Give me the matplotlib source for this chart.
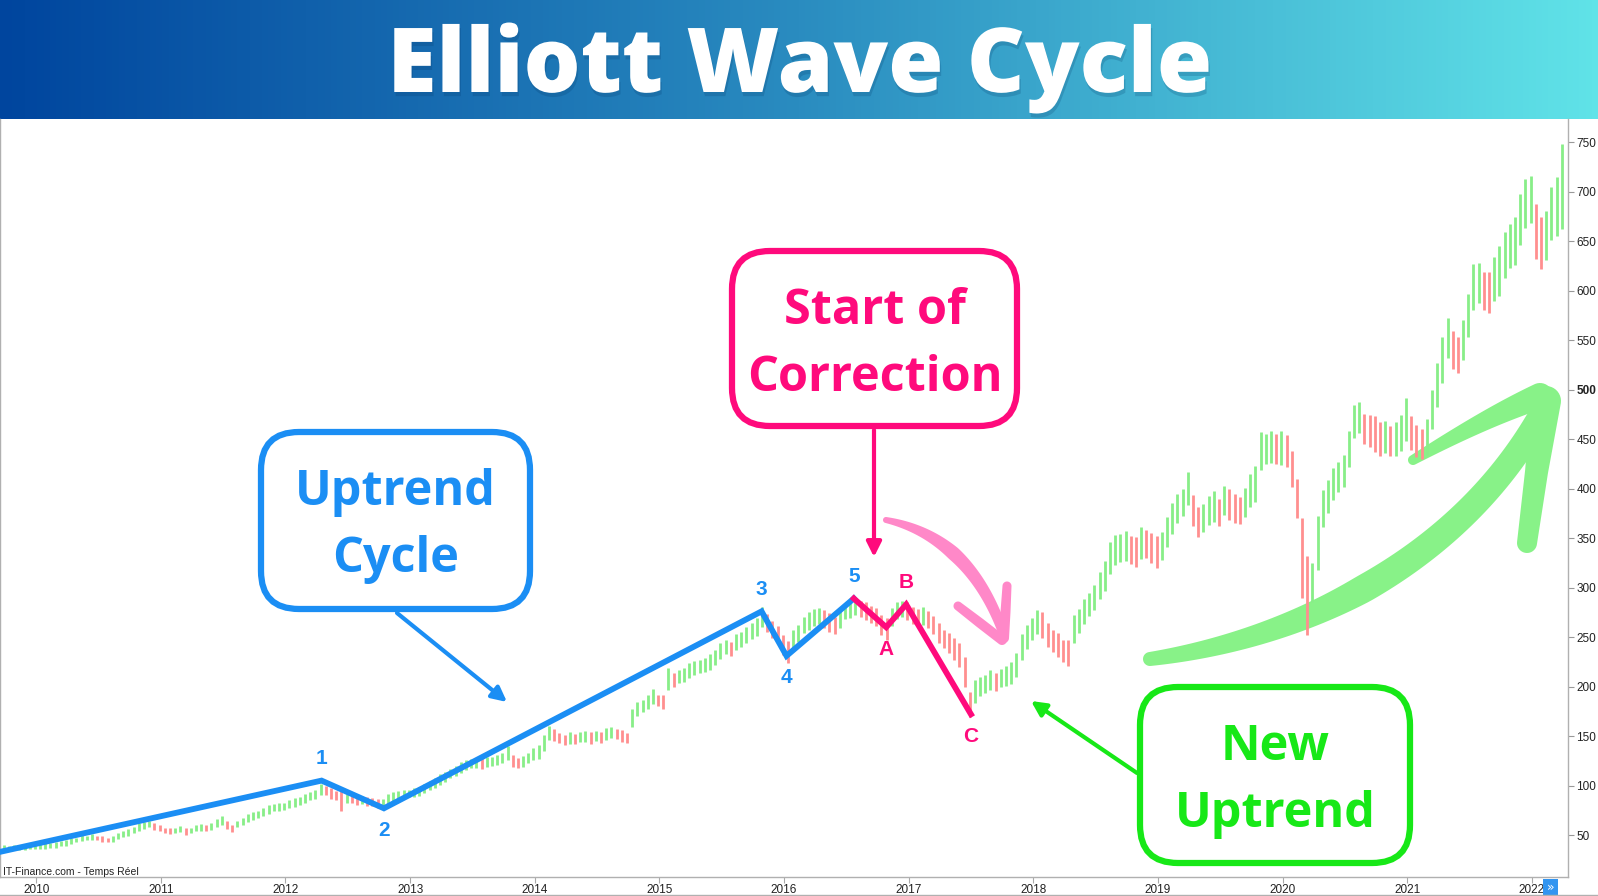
import numpy as np
import matplotlib.pyplot as plt
import matplotlib.patheffects as pe
from matplotlib.patches import FancyBboxPatch, Polygon
from matplotlib.colors import LinearSegmentedColormap

W, H = 1598, 896

# ---------------- données ----------------
# barres demi-mensuelles à partir de 2009.74 : milieu et hauteur (high - low)
bar_start = 2009.74
bar_mid = [
    37, 37, 37, 37, 38, 38, 38, 38, 39, 39, 40, 41, 42, 44, 45, 47, 47, 48, 47, 46, 45, 46, 49, 51,
    53, 55, 58, 60, 61, 59, 57, 55, 54, 55, 56, 54, 55, 57, 58, 57, 59, 62, 65, 60, 57, 61, 64, 67,
    69, 71, 73, 76, 78, 78, 79, 81, 83, 84, 87, 89, 91, 96, 95, 92, 90, 84, 87, 86, 85, 85, 84, 83,
    82, 82, 86, 89, 90, 91, 92, 93, 94, 97, 100, 103, 106, 109, 112, 115, 118, 121, 122, 123, 122, 124, 124, 126,
    128, 133, 125, 123, 124, 128, 132, 134, 143, 153, 151, 148, 146, 148, 147, 149, 150, 148, 150, 149, 152, 154, 152, 150,
    148, 168, 177, 180, 184, 190, 186, 184, 208, 207, 210, 212, 216, 219, 220, 222, 225, 229, 236, 240, 238, 245, 248, 252,
    256, 260, 270, 264, 258, 252, 242, 235, 248, 254, 262, 266, 270, 271, 268, 265, 262, 268, 276, 278, 281, 278, 276, 273,
    270, 262, 258, 270, 277, 278, 276, 272, 270, 271, 268, 262, 254, 248, 244, 238, 232, 215, 182, 195, 200, 203, 207, 205,
    209, 211, 214, 222, 240, 250, 258, 265, 262, 252, 246, 242, 236, 234, 258, 266, 276, 283, 290, 302, 312, 330, 338, 340,
    342, 338, 336, 345, 344, 340, 336, 342, 356, 370, 380, 386, 400, 378, 366, 370, 378, 382, 376, 388, 384, 380, 378, 386,
    398, 405, 438, 440, 442, 440, 441, 438, 420, 390, 330, 292, 305, 345, 380, 392, 405, 412, 418, 440, 468, 472, 460, 458,
    455, 450, 452, 448, 450, 456, 470, 456, 448, 445, 452, 480, 505, 530, 552, 540, 535, 550, 575, 604, 608, 600, 598, 612,
    620, 636, 645, 650, 672, 688, 692, 660, 648, 656, 678, 685, 705,
]
bar_rng = [
    5, 4, 5, 4, 6, 5, 4, 5, 6, 5, 6, 5, 6, 7, 5, 6, 5, 6, 5, 6, 5, 6, 7, 6,
    7, 6, 8, 7, 6, 7, 6, 5, 6, 5, 6, 7, 5, 6, 7, 6, 7, 8, 9, 8, 7, 6, 7, 8,
    8, 7, 8, 9, 7, 8, 7, 8, 9, 8, 9, 8, 10, 12, 10, 11, 9, 20, 9, 8, 9, 8, 9, 8,
    9, 8, 10, 9, 8, 9, 8, 10, 9, 10, 9, 10, 11, 10, 9, 10, 11, 10, 9, 10, 11, 10, 9, 10,
    10, 14, 12, 10, 11, 10, 12, 14, 16, 14, 12, 11, 10, 12, 11, 10, 11, 12, 10, 11, 12, 11, 10, 12,
    10, 18, 14, 12, 14, 15, 12, 14, 22, 14, 13, 14, 15, 14, 13, 14, 16, 15, 16, 14, 15, 16, 15, 16,
    16, 18, 20, 18, 17, 18, 20, 22, 18, 17, 16, 18, 17, 16, 18, 19, 17, 18, 16, 17, 18, 16, 18, 17,
    18, 20, 22, 18, 17, 16, 18, 17, 16, 18, 17, 18, 20, 19, 20, 22, 24, 30, 26, 24, 20, 18, 20, 18,
    18, 20, 22, 24, 26, 24, 22, 24, 26, 24, 22, 24, 22, 26, 28, 24, 26, 24, 26, 28, 30, 32, 30, 28,
    30, 28, 30, 32, 28, 30, 32, 28, 30, 32, 30, 28, 34, 32, 30, 28, 30, 32, 28, 30, 32, 30, 28, 30,
    34, 36, 38, 30, 32, 30, 34, 32, 36, 40, 80, 80, 40, 55, 38, 34, 32, 30, 32, 36, 34, 32, 30, 32,
    36, 34, 32, 30, 34, 36, 44, 34, 32, 30, 36, 40, 44, 46, 40, 38, 36, 40, 44, 46, 40, 38, 42, 44,
    50, 46, 44, 48, 52, 50, 48, 56, 52, 50, 54, 60, 86,
]

# vagues d'Elliott
wave_up_years = [2009.71, 2012.29, 2012.79, 2015.82, 2016.02, 2016.56]
wave_up_prices = [33, 105, 77, 276, 231, 289]
wave_up_labels = ['', '1', '2', '3', '4', '5']
wave_abc_years = [2016.56, 2016.82, 2016.98, 2017.50]
wave_abc_prices = [289, 260, 283, 172]
wave_abc_labels = ['', 'A', 'B', 'C']

years = list(range(2010, 2023))
price_ticks = list(range(50, 751, 50))

BLUE = '#1b8ef4'
PINK = '#ff0a7c'
GREEN = '#17e817'


def frac(x0, y0, x1, y1):
    return [x0 / W, 1 - y1 / H, (x1 - x0) / W, (y1 - y0) / H]


def bezier(ctrl, n=80):
    c = np.array(ctrl, float)
    s = np.linspace(0, 1, n)[:, None]
    return ((1 - s) ** 3) * c[0] + 3 * (1 - s) ** 2 * s * c[1] + 3 * (1 - s) * s ** 2 * c[2] + s ** 3 * c[3]


def brush(axe, ctrl, widths, color, tr, z=1):
    # trait de pinceau : courbe de Bézier épaisse avec bouts arrondis
    p = bezier(ctrl)
    d = np.gradient(p, axis=0)
    d /= np.linalg.norm(d, axis=1)[:, None]
    nrm = np.column_stack([-d[:, 1], d[:, 0]])
    s = np.linspace(0, 1, len(p))
    w = np.interp(s, [0, 0.5, 1], widths) / 2
    left = p + nrm * w[:, None]
    right = p - nrm * w[:, None]
    a1 = np.arctan2(nrm[-1, 1], nrm[-1, 0])
    ang = np.linspace(a1, a1 - np.pi, 20)
    cap1 = p[-1] + w[-1] * np.column_stack([np.cos(ang), np.sin(ang)])
    a0 = np.arctan2(nrm[0, 1], nrm[0, 0])
    ang = np.linspace(a0 + np.pi, a0, 20)
    cap0 = p[0] + w[0] * np.column_stack([np.cos(ang), np.sin(ang)])
    pts = np.vstack([left, cap1, right[::-1], cap0])
    axe.add_patch(Polygon(pts, closed=True, facecolor=color, edgecolor='none',
                          transform=tr, zorder=z, clip_on=False))


def straight(p0, p1):
    p0, p1 = np.array(p0, float), np.array(p1, float)
    return [p0, p0 + (p1 - p0) / 3, p0 + 2 * (p1 - p0) / 3, p1]


fig = plt.figure(figsize=(W / 100, H / 100), dpi=100)

# ---------------- bandeau titre ----------------
axb = fig.add_axes(frac(0, 0, W, 119), zorder=0)
cmap = LinearSegmentedColormap.from_list('bandeau', ['#00459e', '#2a8cc0', '#60e3e8'])
axb.imshow(np.linspace(0, 1, 256)[None, :], aspect='auto', cmap=cmap, extent=[0, 1, 0, 1])
axb.set_axis_off()

# ---------------- graphique des cours ----------------
ax = fig.add_axes(frac(0, 119, 1568, 877), zorder=1)
ax.set_xlim(2009.71, 2022.29)
ax.set_ylim(7.6, 773.5)

mid = np.array(bar_mid, float)
rng = np.array(bar_rng, float)
t = bar_start + np.arange(len(mid)) / 24
up = np.r_[True, mid[1:] >= mid[:-1]]
cols = np.where(up, '#88ee88', '#ff8f8f')
ax.vlines(t, mid - rng / 2, mid + rng / 2, colors=cols, lw=2.0, zorder=2)

ax.plot(wave_up_years, wave_up_prices, color=BLUE, lw=4.2, solid_joinstyle='miter', zorder=4)
ax.plot(wave_abc_years, wave_abc_prices, color=PINK, lw=4.2, solid_joinstyle='miter', zorder=4)

for i, lab in enumerate(wave_up_labels):
    if lab:
        dy = 22 if i % 2 == 1 else -22
        ax.annotate(lab, (wave_up_years[i], wave_up_prices[i]), xytext=(0, dy),
                    textcoords='offset pixels', ha='center', va='center', color=BLUE,
                    fontsize=15, fontweight='bold', family='Liberation Sans', zorder=5)
for i, lab in enumerate(wave_abc_labels):
    if lab:
        dy = 22 if lab == 'B' else -22
        ax.annotate(lab, (wave_abc_years[i], wave_abc_prices[i]), xytext=(0, dy),
                    textcoords='offset pixels', ha='center', va='center', color=PINK,
                    fontsize=15, fontweight='bold', family='Liberation Sans', zorder=5)

ax.yaxis.tick_right()
ax.set_yticks(price_ticks, labels=[str(v) for v in price_ticks])
for lab in ax.get_yticklabels():
    lab.set_family('Liberation Sans')
    if lab.get_text() == '500':
        lab.set_fontweight('bold')
        lab.set_fontsize(9)
ax.set_xticks(years, labels=[str(y) for y in years])
for lab in ax.get_xticklabels():
    lab.set_family('Liberation Sans')
ax.tick_params(axis='y', direction='out', length=4, width=0.8, color='#999999',
               labelsize=8.5, labelcolor='#222222', pad=2)
ax.tick_params(axis='x', direction='out', length=4, width=0.8, color='#aaaaaa',
               labelsize=8.5, labelcolor='#222222', pad=1)
for side in ['left', 'right', 'bottom']:
    ax.spines[side].set_color('#b0b0b0')
    ax.spines[side].set_linewidth(1)
ax.spines['top'].set_visible(False)

# ---------------- annotations (repère en pixels) ----------------
axo = fig.add_axes([0, 0, 1, 1], zorder=3)
axo.set_xlim(0, W)
axo.set_ylim(H, 0)
axo.set_axis_off()
axo.patch.set_alpha(0)
tr = axo.transData

axo.text(3, 875, 'IT-Finance.com - Temps Réel', fontsize=7.5, family='Liberation Sans',
         color='#222222', ha='left', va='baseline')

# traits de pinceau (sous les barres)
LGREEN = '#88f288'
brush(ax, [(1150, 659), (1290, 640), (1450, 570), (1537, 422)], [14, 28, 25], LGREEN, tr)
brush(ax, [(1413, 460), (1460, 433), (1500, 412), (1540, 396)], [10, 18, 26], LGREEN, tr)
brush(ax, straight((1546, 401), (1527, 543)), [30, 23, 20], LGREEN, tr)
LPINK = '#ff88c8'
brush(ax, [(886, 520), (935, 530), (978, 562), (1003, 632)], [6, 14, 10], LPINK, tr)
brush(ax, straight((958, 606), (1002, 640)), [9, 10, 10], LPINK, tr)
brush(ax, straight((1007, 586), (1004, 638)), [9, 10, 10], LPINK, tr)

# titre
axo.text(800, 92, 'Elliott Wave Cycle', ha='center', va='baseline', color='white',
         fontsize=64.5, fontweight='heavy', family='Open Sans',
         path_effects=[pe.SimplePatchShadow(offset=(1, -3), shadow_rgbFace='#003060', alpha=0.18),
                       pe.Normal()])


def callout(x0, y0, x1, y1, color, lines, baselines):
    box = FancyBboxPatch((x0 + 3, y0 + 3), x1 - x0 - 6, y1 - y0 - 6,
                         boxstyle='round,pad=0,rounding_size=38', facecolor='white',
                         edgecolor=color, lw=4.5, zorder=3)
    axo.add_patch(box)
    for txt, yb in zip(lines, baselines):
        axo.text((x0 + x1) / 2, yb, txt, ha='center', va='baseline', color=color,
                 fontsize=35, fontweight='bold', family='Open Sans', zorder=4)


callout(258, 429, 533, 612, BLUE, ['Uptrend', 'Cycle'], [505, 572])
callout(729, 248, 1020, 429, PINK, ['Start of', 'Correction'], [324, 391])
callout(1137, 684, 1413, 866, GREEN, ['New', 'Uptrend'], [760, 827])

axo.annotate('', xy=(507, 702), xytext=(397, 613),
             arrowprops=dict(arrowstyle='-|>', lw=3, color=BLUE, mutation_scale=22, shrinkA=0, shrinkB=0))
axo.annotate('', xy=(874, 557), xytext=(874, 430),
             arrowprops=dict(arrowstyle='-|>', lw=3, color=PINK, mutation_scale=22, shrinkA=0, shrinkB=0))
axo.annotate('', xy=(1031, 701), xytext=(1137, 773),
             arrowprops=dict(arrowstyle='-|>', lw=3, color=GREEN, mutation_scale=22, shrinkA=0, shrinkB=0))

# bas de page
axo.plot([0, W], [895, 895], color='#b0b0b0', lw=1)
axo.add_patch(plt.Rectangle((1543, 879), 15, 16, facecolor='#3395f0', edgecolor='none'))
axo.text(1550.5, 887, '»', ha='center', va='center', color='white', fontsize=9,
         family='DejaVu Sans')

fig.savefig('out.png', dpi=100)
